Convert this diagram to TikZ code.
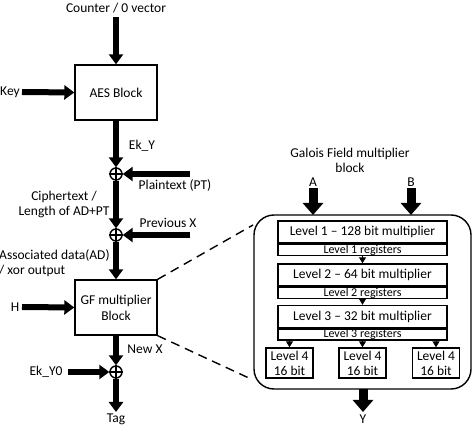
\documentclass[tikz,border=0pt]{standalone}
\usepackage{fontspec}
\setmainfont{Carlito}
\usetikzlibrary{arrows.meta}
\begin{document}
\begin{tikzpicture}[x=1pt,y=-1pt,
  lbl/.style={font=\fontsize{13.5}{15}\selectfont, inner sep=0pt, align=center},
  blk/.style={draw, line width=1.4pt, minimum width=82pt, minimum height=55pt, align=center, inner sep=0pt, font=\fontsize{13.5}{16}\selectfont},
  xorn/.style={draw, circle, line width=1.4pt, minimum size=12pt, inner sep=0pt},
  flow/.style={line width=6pt, -{Triangle[length=10pt,width=14pt]}},
  fat/.style={line width=9pt, -{Triangle[length=12pt,width=20pt]}},
  lvl/.style={draw, line width=1.4pt, minimum width=169pt, minimum height=22pt, inner sep=0pt, font=\fontsize{13.5}{15}\selectfont},
  reg/.style={draw, line width=1.4pt, minimum width=169pt, minimum height=11pt, inner sep=0pt, font=\fontsize{12}{12}\selectfont},
  lv4/.style={draw, line width=1.4pt, minimum width=47pt, minimum height=30pt, inner sep=0pt, align=center, font=\fontsize{13.5}{15}\selectfont},
  small/.style={line width=1pt, -{Triangle[length=6pt,width=7pt]}},
  zoomline/.style={line width=1.4pt, dash pattern=on 9pt off 6pt}
]
\useasboundingbox (0,0) rectangle (474,427);

% left column
\node[lbl] (ctr) at (116,8) {Counter / 0 vector};
\coordinate (ctrs) at (116,17);
\node[blk] (aes) at (116,92.5) {AES Block};
\node[lbl] (key) at (10,92) {Key};
\coordinate (keys) at (22,92);
\node[xorn] (x1) at (116,174) {};
\node[xorn] (x2) at (116,235) {};
\node[blk] (gf) at (116,307.5) {GF multiplier\\Block};
\node[xorn] (x3) at (116,372) {};
\foreach \n in {x1,x2,x3} \draw[line width=1.4pt] (\n.north)--(\n.south) (\n.west)--(\n.east);

\node[lbl] (eky) at (142,146) {Ek\_Y};
\node[lbl] (pt) at (175,186) {Plaintext (PT)};
\coordinate (pts) at (190,174);
\node[lbl] (ct) at (64,204) {Ciphertext /\\Length of AD+PT};
\node[lbl] (px) at (168,223) {Previous X};
\coordinate (pxs) at (190,235);
\node[lbl, align=left, anchor=west] (ad) at (-1,263) {Associated data(AD)\\/ xor output};
\node[lbl] (h) at (15,307) {H};
\coordinate (hs) at (22,307);
\node[lbl] (nx) at (145,349) {New X};
\node[lbl] (ek0) at (46,372) {Ek\_Y0};
\coordinate (ek0s) at (68,372);
\coordinate (tagc) at (116,412);
\node[lbl] (tag) at (116,419) {Tag};

\draw[flow] (ctrs) -- (aes.north);
\draw[flow] (keys) -- (aes.west);
\draw[flow] (aes.south) -- (x1.north);
\draw[flow] (pts) -- (x1.east);
\draw[flow] (x1.south) -- (x2.north);
\draw[flow] (pxs) -- (x2.east);
\draw[flow] (x2.south) -- (gf.north);
\draw[flow] (hs) -- (gf.west);
\draw[flow] (gf.south) -- (x3.north);
\draw[flow] (ek0s) -- (x3.west);
\draw[flow] (x3.south) -- (tagc);

% right block
\node[lbl] (title) at (350,160.5) {Galois Field multiplier\\block};
\node[lbl] (la) at (313,182) {A};
\node[lbl] (lb) at (411,182) {B};
\node[draw, line width=1.4pt, rounded corners=20pt, minimum width=217pt, minimum height=174pt] (gfm) at (362.5,302) {};
\coordinate (as) at (313,188);
\coordinate (ae) at (313,215);
\coordinate (bs) at (411,188);
\coordinate (be) at (411,215);
\draw[fat] (as) -- (ae);
\draw[fat] (bs) -- (be);
\coordinate (ys) at (363,389);
\coordinate (ye) at (363,412);
\draw[fat] (ys) -- (ye);
\node[lbl] (y) at (363,419) {Y};

\node[lvl] (l1) at (362.5,232) {Level 1 -- 128 bit multiplier};
\node[reg, anchor=north] (r1) at (l1.south) {Level 1 registers};
\node[lvl] (l2) at (362.5,275) {Level 2 -- 64 bit multiplier};
\node[reg, anchor=north] (r2) at (l2.south) {Level 2 registers};
\node[lvl] (l3) at (362.5,316.5) {Level 3 -- 32 bit multiplier};
\node[reg, anchor=north] (r3) at (l3.south) {Level 3 registers};
\node[lv4] (a4) at (289.5,363) {Level 4\\16 bit};
\node[lv4] (b4) at (362.5,363) {Level 4\\16 bit};
\node[lv4] (c4) at (436,363) {Level 4\\16 bit};

\draw[small] (r1.south) -- (l2.north);
\draw[small] (r2.south) -- (l3.north);
\draw[small] (r3.south -| a4.north) -- (a4.north);
\draw[small] (r3.south) -- (b4.north);
\draw[small] (r3.south -| c4.north) -- (c4.north);

% zoom lines
\coordinate (zt) at (253,225);
\coordinate (zb) at (251,379);
\draw[zoomline] (gf.north east) -- (zt);
\draw[zoomline] (gf.south east) -- (zb);
\end{tikzpicture}
\end{document}
